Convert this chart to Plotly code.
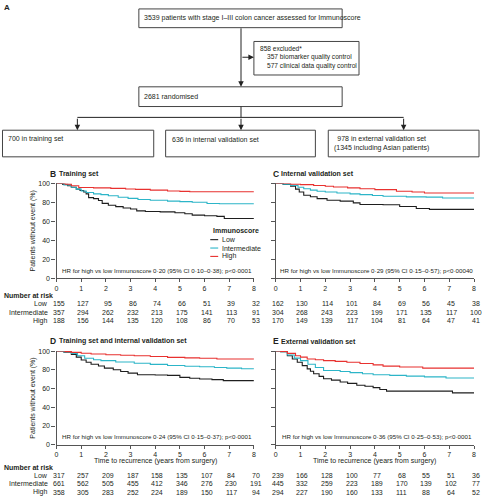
import plotly.graph_objects as go

W, H = 482, 500
FONT = "Liberation Sans Narrow, Liberation Sans, Arial, sans-serif"
TXT = "#231f20"

years = [0, 1, 2, 3, 4, 5, 6, 7, 8]
groups = ["Low", "Intermediate", "High"]
colours = ["#1e1e1e", "#2cb5c8", "#e8312f"]

# flow chart text
box_top = "3539 patients with stage I–III colon cancer assessed for Immunoscore"
box_excl = ["858 excluded*", "357 biomarker quality control", "577 clinical data quality control"]
box_rand = "2681 randomised"
box_sets = ["700 in training set", "636 in internal validation set",
            "978 in external validation set<br>(1345 including Asian patients)"]

# B training set
b_low_t = [0, 0.25, 0.45, 0.6, 0.8, 0.95, 1.1, 1.2, 1.3, 1.5, 1.7, 1.85, 2.1, 2.4, 2.7, 3.0, 3.25, 3.6, 4.2, 4.8, 5.2, 5.5, 6.0, 6.5, 6.8, 8.0]
b_low_s = [100, 99, 97.5, 96, 94, 92.5, 91, 89, 85, 84, 82, 79, 77, 75.5, 74, 73, 71, 70.3, 70, 69, 68, 66.5, 65.8, 65.2, 63, 63]
b_int_t = [0, 0.3, 0.6, 0.8, 1.0, 1.2, 1.5, 1.8, 2.1, 2.5, 2.9, 3.3, 3.8, 4.5, 5.0, 5.5, 6.1, 6.6, 8.0]
b_int_s = [100, 98.5, 96, 94, 92, 90.5, 89, 88.2, 87, 85.4, 84.2, 83, 82.2, 81.3, 80.8, 80.2, 78.8, 78.5, 78.5]
b_high_t = [0, 0.35, 0.6, 0.9, 1.5, 2.2, 2.8, 3.2, 3.8, 4.5, 5.0, 5.4, 8.0]
b_high_s = [100, 99.3, 97.5, 95.8, 95.3, 94.8, 94.2, 93.7, 93, 92, 91.6, 91.3, 91.3]
b_risk_low = [155, 127, 95, 86, 74, 66, 51, 39, 32]
b_risk_int = [357, 294, 262, 232, 213, 175, 141, 113, 91]
b_risk_high = [188, 156, 144, 135, 120, 108, 86, 70, 53]

# C internal validation set
c_low_t = [0, 0.3, 0.6, 0.8, 0.95, 1.13, 1.4, 1.67, 2.07, 2.6, 3.13, 3.4, 4.33, 5.0, 5.67, 6.2, 8.0]
c_low_s = [100, 99, 97, 94, 91, 87.5, 86, 84, 82.3, 81.3, 79.5, 77.8, 77.5, 75.7, 73.6, 72.6, 72.6]
c_int_t = [0, 0.3, 0.6, 0.9, 1.13, 1.4, 1.67, 2.0, 2.47, 3.0, 3.4, 3.9, 4.33, 5.27, 6.07, 6.73, 8.0]
c_int_s = [100, 99.2, 98, 96, 94.4, 93, 91.7, 91, 89.9, 89, 88.2, 87.3, 86.5, 85.8, 85.6, 84.7, 84]
c_high_t = [0, 0.6, 1.0, 1.53, 2.0, 2.33, 2.9, 3.4, 4.0, 4.87, 5.5, 6.0, 8.0]
c_high_s = [100, 99.3, 98.8, 97.9, 97, 96.2, 95.3, 94.4, 93.5, 91.7, 91, 89.9, 89.9]
c_risk_low = [162, 130, 114, 101, 84, 69, 56, 45, 38]
c_risk_int = [304, 268, 243, 223, 199, 171, 135, 117, 100]
c_risk_high = [170, 149, 139, 117, 104, 81, 64, 47, 41]

# D training + internal validation
d_low_t = [0, 0.3, 0.6, 0.8, 1.0, 1.2, 1.4, 1.7, 1.94, 2.3, 2.6, 2.9, 3.28, 4.0, 4.5, 5.0, 5.4, 5.8, 6.3, 6.76, 8.0]
d_low_s = [100, 98.8, 96.5, 93.5, 90.5, 88, 86, 84, 81.8, 80, 78.2, 76.5, 74.7, 74.4, 74, 71.9, 71, 70.2, 69.5, 68.4, 68.4]
d_int_t = [0, 0.3, 0.6, 0.85, 1.14, 1.5, 1.8, 2.4, 3.15, 3.8, 4.5, 5.2, 5.8, 6.4, 6.9, 7.5, 8.0]
d_int_s = [100, 99, 97.5, 95, 92.3, 90.8, 89.8, 88.4, 87, 85.8, 84.6, 83.8, 83.2, 82.5, 81.8, 81.2, 81]
d_high_t = [0, 0.35, 0.6, 1.0, 1.4, 2.0, 2.6, 3.15, 3.8, 4.5, 5.2, 5.8, 6.5, 8.0]
d_high_s = [100, 99.4, 98.6, 97.6, 96.8, 96, 95.5, 95, 94.2, 93.3, 92.7, 92.3, 91.6, 91.2]
d_risk_low = [317, 257, 209, 187, 158, 135, 107, 84, 70]
d_risk_int = [661, 562, 505, 455, 412, 346, 276, 230, 191]
d_risk_high = [358, 305, 283, 252, 224, 189, 150, 117, 94]

# E external validation set
e_low_t = [0, 0.2, 0.47, 0.67, 0.87, 1.07, 1.27, 1.4, 1.53, 1.75, 1.93, 2.25, 2.6, 2.9, 3.27, 3.6, 3.93, 4.2, 4.47, 7.13, 8.0]
e_low_s = [100, 99.3, 95, 91.5, 88, 84.5, 81, 78.5, 75.8, 73, 70.5, 69, 67, 65.5, 63.5, 62.5, 61, 59, 57.2, 55.4, 55.4]
e_int_t = [0, 0.2, 0.47, 0.75, 1.0, 1.3, 1.6, 1.93, 2.6, 3.0, 3.5, 3.93, 4.6, 5.27, 6.0, 6.87, 8.0]
e_int_s = [100, 99.2, 95.8, 92.5, 89.8, 86, 82.5, 79.3, 78.2, 77, 75.8, 74.7, 74, 73.3, 72.5, 71.2, 71.2]
e_high_t = [0, 0.2, 0.47, 0.8, 1.0, 1.27, 1.6, 1.93, 2.4, 2.87, 3.4, 3.93, 4.33, 5.0, 5.93, 8.0]
e_high_s = [100, 99.5, 97.5, 95, 93.5, 91.6, 90.7, 89.8, 89, 88, 86.8, 85.3, 83.9, 83, 81.8, 81.8]
e_risk_low = [239, 166, 128, 100, 77, 68, 55, 51, 36]
e_risk_int = [445, 332, 259, 223, 189, 170, 139, 102, 77]
e_risk_high = [294, 227, 190, 160, 133, 111, 88, 64, 52]

hr_texts = [
    "HR for high vs low Immunoscore 0·20 (95% CI 0·10–0·38); p<0·0001",
    "HR for high vs low Immunoscore 0·29 (95% CI 0·15–0·57); p<0·00040",
    "HR for high vs low Immunoscore 0·24 (95% CI 0·15–0·37); p<0·0001",
    "HR for high vs low Immunoscore 0·36 (95% CI 0·25–0·53); p<0·0001",
]


def px(x):
    return x / W


def py(y):
    return 1 - y / H


fig = go.Figure()
shapes = []
annots = []


def text(x, y, s, size=7, anchor="left", bold=False, **kw):
    annots.append(dict(x=px(x), y=py(y), xref="paper", yref="paper", text=("<b>%s</b>" % s) if bold else s,
                       showarrow=False, xanchor=anchor, yanchor="middle",
                       font=dict(size=size, color=TXT, family=FONT), **kw))


def box(x0, y0, x1, y1):
    shapes.append(dict(type="rect", xref="paper", yref="paper", x0=px(x0), x1=px(x1), y0=py(y0), y1=py(y1),
                       line=dict(color="#444", width=1)))


def line(x0, y0, x1, y1):
    shapes.append(dict(type="line", xref="paper", yref="paper", x0=px(x0), x1=px(x1), y0=py(y0), y1=py(y1),
                       line=dict(color="#222", width=1)))


def arrow(x0, y0, x1, y1):
    annots.append(dict(x=px(x1), y=py(y1), xref="paper", yref="paper", ax=x0 - x1, ay=y0 - y1,
                       axref="pixel", ayref="pixel", text="", showarrow=True, arrowhead=2,
                       arrowsize=1.1, arrowwidth=1, arrowcolor="#222", standoff=0))


# flow chart (panel A)
text(0, 4, "A", size=8, bold=True)
box(138, 5, 343, 24)
text(141, 14.5, box_top)
arrow(241, 24, 241, 84)
arrow(241, 54, 254, 54)
box(254, 38, 360, 72)
text(258, 45.5, box_excl[0], size=6.6)
text(265, 54, box_excl[1], size=6.6)
text(265, 62.5, box_excl[2], size=6.6)
box(138, 84, 343, 104)
text(141, 94, box_rand)
line(241, 104, 241, 115)
line(76, 115, 405, 115)
for xa in (76, 241, 405):
    arrow(xa, 115, xa, 128)
for (x0, x1), s in zip([(0.5, 153), (165, 316), (329, 481)], box_sets):
    box(x0, 128, x1, 155)
    text(x0 + 4, 137 if "<br>" not in s else 141.5, s)

# KM panels: (x axis, y axis, left px, right px, top px, bottom px)
panels = [
    ("x", "y", 55, 254, 182, 278, "B", "Training set",
     [(b_low_t, b_low_s), (b_int_t, b_int_s), (b_high_t, b_high_s)], [b_risk_low, b_risk_int, b_risk_high]),
    ("x2", "y2", 276, 476, 182, 278, "C", "Internal validation set",
     [(c_low_t, c_low_s), (c_int_t, c_int_s), (c_high_t, c_high_s)], [c_risk_low, c_risk_int, c_risk_high]),
    ("x3", "y3", 55, 254, 352, 447, "D", "Training set and internal validation set",
     [(d_low_t, d_low_s), (d_int_t, d_int_s), (d_high_t, d_high_s)], [d_risk_low, d_risk_int, d_risk_high]),
    ("x4", "y4", 276, 476, 352, 447, "E", "External validation set",
     [(e_low_t, e_low_s), (e_int_t, e_int_s), (e_high_t, e_high_s)], [e_risk_low, e_risk_int, e_risk_high]),
]

layout_axes = {}
for i, (xa, ya, l, r, t, b, letter, title, curves, risks) in enumerate(panels):
    left = l < 100
    for (tt, ss), g, c in zip(curves, groups, colours):
        fig.add_trace(go.Scatter(x=tt, y=ss, mode="lines", line=dict(color=c, width=1.1, shape="hv"),
                                 name=g, xaxis=xa, yaxis=ya, showlegend=False, hoverinfo="skip"))
    xkey = "xaxis" if xa == "x" else "xaxis" + xa[1:]
    ykey = "yaxis" if ya == "y" else "yaxis" + ya[1:]
    layout_axes[xkey] = dict(domain=[px(l), px(r)], range=[0, 8], anchor=ya, tickvals=years,
                             showline=True, linecolor="#555", linewidth=1.3, ticks="outside", ticklen=3,
                             tickcolor="#555", showgrid=False, zeroline=False,
                             tickfont=dict(size=7, color=TXT, family=FONT), fixedrange=True)
    layout_axes[ykey] = dict(domain=[py(b), py(t)], range=[0, 100], anchor=xa, tickvals=[0, 20, 40, 60, 80, 100],
                             showline=True, linecolor="#555", linewidth=1.3, ticks="outside", ticklen=4,
                             tickcolor="#555", showgrid=False, zeroline=False, showticklabels=left,
                             tickfont=dict(size=7, color=TXT, family=FONT), fixedrange=True)
    # titles
    text(l - 9 if left else l - 5, t - 10, letter, size=8.5, bold=True)
    text(l if left else l + 3, t - 10, title, size=7, bold=True)
    text((l + r) / 2 + 2, b - 8, hr_texts[i], size=6.2, anchor="center")
    if left:
        annots.append(dict(x=px(31), y=py((t + b) / 2), xref="paper", yref="paper", text="Patients without event (%)",
                           showarrow=False, textangle=-90, xanchor="center", yanchor="middle",
                           font=dict(size=7, color=TXT, family=FONT)))
    # numbers at risk
    head = b + 18 if t < 300 else b + 23
    if t > 300:
        text((l + r) / 2, b + 16, "Time to recurrence (years from surgery)", size=7, anchor="center")
    if left:
        text(0, head, "Number at risk", size=7, bold=True)
    for k, (g, row) in enumerate(zip(groups, risks)):
        yy = head + 8 + 8.5 * k
        if left:
            text(48, yy, g, size=7, anchor="right")
        for yr, n in zip(years, row):
            annots.append(dict(x=yr, y=py(yy), xref=xa, yref="paper", text=str(n), showarrow=False,
                               xanchor="center", yanchor="middle", xshift=2,
                               font=dict(size=7, color=TXT, family=FONT)))

# legend in panel B
text(211, 230, "Immunoscore", size=7, bold=True)
for k, (g, c) in enumerate(zip(groups, colours)):
    yy = 239 + 8.5 * k
    shapes.append(dict(type="line", xref="paper", yref="paper", x0=px(210), x1=px(218), y0=py(yy), y1=py(yy),
                       line=dict(color=c, width=1.1)))
    text(220, yy, g, size=7)

fig.update_layout(width=W, height=H, margin=dict(l=0, r=0, t=0, b=0), paper_bgcolor="white",
                  plot_bgcolor="white", shapes=shapes, annotations=annots, showlegend=False, **layout_axes)

# the page body has a default 8px margin; drop it so the figure fills the window
fig.write_html("out.html", config={"displayModeBar": False},
               post_script="document.body.style.margin='0px';")
